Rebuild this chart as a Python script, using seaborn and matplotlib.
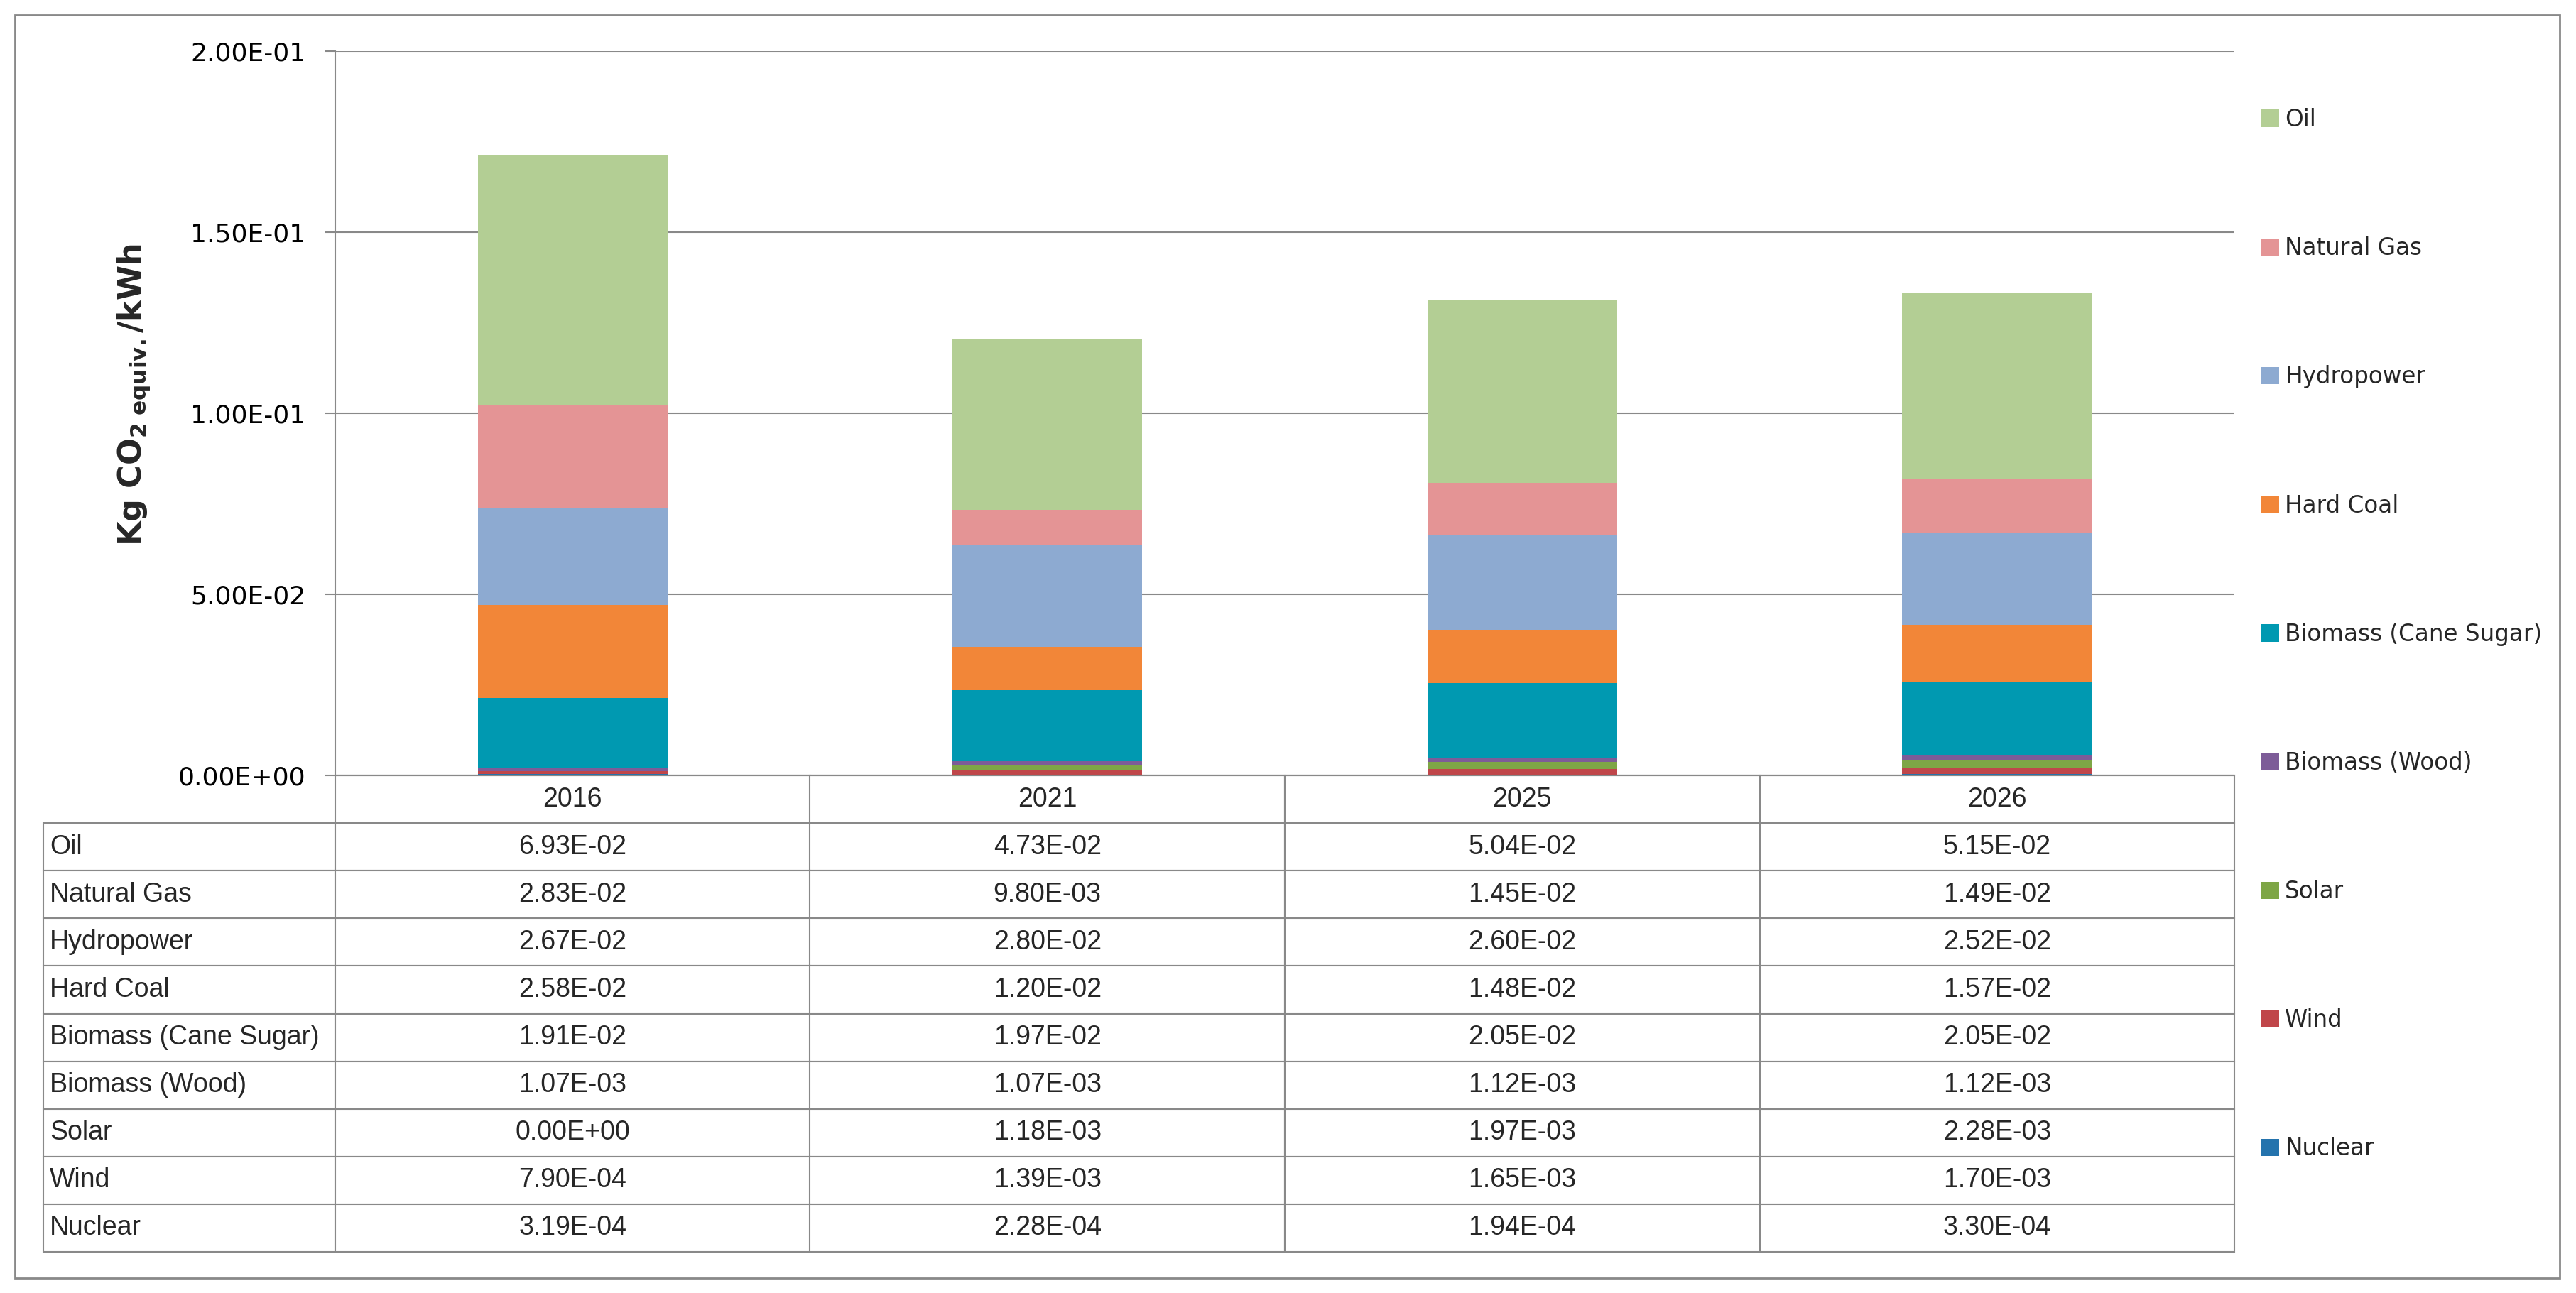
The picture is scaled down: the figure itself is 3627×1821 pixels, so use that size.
import matplotlib
matplotlib.use("Agg")
import matplotlib.pyplot as plt
import seaborn as sns
import numpy as np
import pandas as pd
from matplotlib.patches import Patch, Rectangle
from matplotlib.table import Table
from matplotlib.ticker import FuncFormatter

years = ["2016", "2021", "2025", "2026"]

# stacking order: bottom -> top
sources = ["Nuclear", "Wind", "Solar", "Biomass (Wood)", "Biomass (Cane Sugar)",
           "Hard Coal", "Hydropower", "Natural Gas", "Oil"]

nuclear = [3.19e-04, 2.28e-04, 1.94e-04, 3.30e-04]
wind = [7.90e-04, 1.39e-03, 1.65e-03, 1.70e-03]
solar = [0.00e+00, 1.18e-03, 1.97e-03, 2.28e-03]
biomass_wood = [1.07e-03, 1.07e-03, 1.12e-03, 1.12e-03]
biomass_cane = [1.91e-02, 1.97e-02, 2.05e-02, 2.05e-02]
hard_coal = [2.58e-02, 1.20e-02, 1.48e-02, 1.57e-02]
hydropower = [2.67e-02, 2.80e-02, 2.60e-02, 2.52e-02]
natural_gas = [2.83e-02, 9.80e-03, 1.45e-02, 1.49e-02]
oil = [6.93e-02, 4.73e-02, 5.04e-02, 5.15e-02]

colors = ["#2473AD", "#C0464A", "#7EA646", "#7D5C98", "#0099B1",
          "#F28638", "#8DAAD1", "#E49495", "#B3CE94"]

values = [nuclear, wind, solar, biomass_wood, biomass_cane,
          hard_coal, hydropower, natural_gas, oil]

df = pd.DataFrame(dict(zip(sources, values)), index=years)
cum = df.cumsum(axis=1)

sns.set_theme(style="white")
plt.rcParams["font.family"] = ["DejaVu Sans"]

W, H = 3627, 1821
fig = plt.figure(figsize=(W / 100, H / 100), dpi=100)
ax = fig.add_axes([472 / W, 1 - 1092 / H, 2674 / W, 1020 / H])

grey = "#898989"

# stacked bars: draw cumulative totals from top layer down so each overlays
for i in range(len(sources) - 1, -1, -1):
    d = pd.DataFrame({"year": years, "val": cum[sources[i]].values})
    sns.barplot(data=d, x="year", y="val", color=colors[i], saturation=1,
                width=0.4, linewidth=0, errorbar=None, ax=ax)

ax.set_xlim(-0.5, 3.5)
ax.set_ylim(0, 0.2)
ax.set_yticks(np.arange(0, 0.2001, 0.05))
ax.yaxis.set_major_formatter(FuncFormatter(lambda v, p: f"{v:.2E}"))
ax.tick_params(axis="y", which="major", length=10.8, width=1.5, color=grey,
               pad=19, labelsize=26, left=True, labelcolor="black")
ax.tick_params(axis="x", bottom=False, labelbottom=False)
ax.set_xlabel("")
ax.yaxis.grid(True, color=grey, linewidth=1.5)
ax.xaxis.grid(False)
ax.set_axisbelow(True)
for s in ["top", "right"]:
    ax.spines[s].set_visible(False)
for s in ["left", "bottom"]:
    ax.spines[s].set_color(grey)
    ax.spines[s].set_linewidth(1.5)

ax.set_ylabel(r"Kg CO$_{\mathbf{2\ equiv.}}$/kWh", fontsize=32, fontweight="bold")
ax.yaxis.label.set_verticalalignment("center")
ax.yaxis.set_label_coords(-0.106, 0.5255)

# -- data table under the plot --
row_w = 411 / 2674
col_w = 0.25
tbl = Table(ax, bbox=[-row_w, -671 / 1020, 1 + row_w, 671 / 1020])
fp = dict(family=["Liberation Sans", "DejaVu Sans"], size=27)
cell_h = 1 / 10
for j, y in enumerate(years):
    tbl.add_cell(0, j + 1, col_w, cell_h, text=y, loc="center", fontproperties=fp)
table_order = sources[::-1]
for r, src in enumerate(table_order):
    c = tbl.add_cell(r + 1, 0, row_w, cell_h, text=src, loc="left", fontproperties=fp)
    c.PAD = 0.022
    for j in range(len(years)):
        tbl.add_cell(r + 1, j + 1, col_w, cell_h, text=f"{df.loc[years[j], src]:.2E}",
                     loc="center", fontproperties=fp)
tbl.auto_set_font_size(False)
for cell in tbl.get_celld().values():
    cell.set_edgecolor(grey)
    cell.set_linewidth(1.5)
ax.add_table(tbl)

# -- legend (top entry = top of stack) --
handles = [Patch(facecolor=colors[i], edgecolor="none") for i in range(len(sources))][::-1]
fig.legend(handles, sources[::-1], loc="upper left", bbox_to_anchor=(3183 / W, 1 - 152 / H),
           frameon=False, fontsize=23.5, labelspacing=4.54, handlelength=0.8,
           handleheight=0.77, handletextpad=0.25, borderpad=0, borderaxespad=0)

# outer chart border
fig.patches.append(Rectangle((21 / W, 1 - 1800 / H), (3604 - 21) / W, (1800 - 21) / H,
                             transform=fig.transFigure, fill=False,
                             edgecolor=grey, linewidth=2))

fig.savefig("out.png", dpi=100)
